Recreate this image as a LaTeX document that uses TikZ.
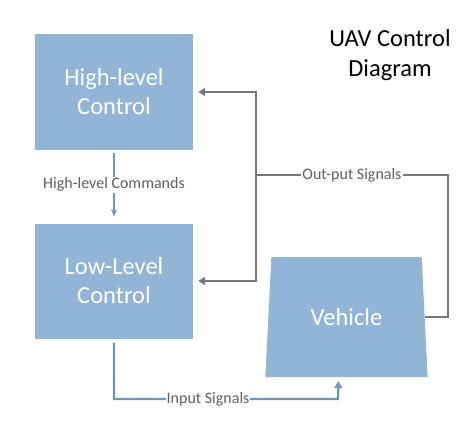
\documentclass[tikz,border=0pt]{standalone}
\usepackage{fontspec}
\setmainfont{Carlito}
\usetikzlibrary{arrows.meta, shapes.geometric, positioning, calc}
\definecolor{boxblue}{RGB}{146,180,213}
\definecolor{lineblue}{RGB}{112,147,182}
\definecolor{linegray}{RGB}{122,118,118}
\definecolor{labelgray}{RGB}{95,95,95}
\tikzset{
  block/.style={rectangle, fill=boxblue, text=white, minimum width=158pt, minimum height=116pt,
    align=center, font=\fontsize{24.5}{29}\selectfont},
  plant/.style={trapezium, fill=boxblue, text=white, trapezium left angle=82.6, trapezium right angle=82.6,
    trapezium stretches=true, minimum width=163pt, minimum height=120pt, font=\fontsize{24.5}{29}\selectfont},
  lbl/.style={fill=white, inner sep=1pt, text=labelgray, font=\fontsize{16}{19}\selectfont},
  cmdline/.style={draw=lineblue, line width=1.3pt, -{Stealth[length=7pt,width=6pt]}},
  inline/.style={draw=lineblue, line width=2.2pt, -{Triangle[length=7pt,width=8pt]}},
  fbline/.style={draw=linegray, line width=2pt}
}
\begin{document}
\begin{tikzpicture}[x=1pt,y=-1pt]
\useasboundingbox (0,0) rectangle (474,434);

\node[block] (hlc) at (114,92) {High-level\\Control};
\node[block, minimum height=115pt] (llc) at (114,281) {Low-Level\\Control};
\node[plant] (veh) at (346.5,317) {Vehicle};
\node[align=center, font=\fontsize{24.5}{30}\selectfont] (title) at (390,55) {UAV Control\\Diagram};

\draw[cmdline] ([yshift=-3pt]hlc.south) -- node[lbl] {High-level Commands} ([yshift=7pt]llc.north);

\coordinate (fbcorner) at (448,175);
\coordinate (fb) at (256,175);
\draw[fbline] (veh.east) -| (fbcorner) -- node[lbl] {Out-put Signals} (fb);
\draw[fbline, -{Triangle[length=7pt,width=8pt]}, shorten >=5pt] (fb) |- (hlc.east);
\draw[fbline, -{Triangle[length=7pt,width=8pt]}, shorten >=5pt] (fb) |- (llc.east);

\coordinate (inturn) at (338,399);
\coordinate (vehin) at ([xshift=-8pt,yshift=-4pt]veh.south);
\draw[inline, shorten <=4pt] (llc.south) |- node[lbl, pos=0.71] {Input Signals} (inturn) -- (vehin);
\end{tikzpicture}
\end{document}
